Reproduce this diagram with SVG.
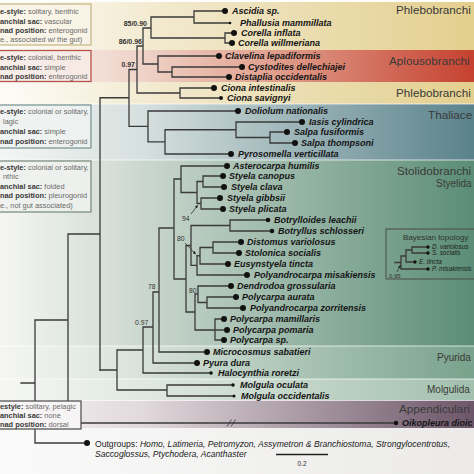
<svg xmlns="http://www.w3.org/2000/svg" width="474" height="474" viewBox="0 0 474 474">
<style>
.tip{font-family:"Liberation Sans",Arial,sans-serif;font-size:9px;font-style:italic;font-weight:bold;fill:#151515}
.clade{font-family:"Liberation Sans",Arial,sans-serif;font-size:11.7px;fill:#3a3a3a}
.fam{font-family:"Liberation Sans",Arial,sans-serif;font-size:10px;fill:#3a3a3a}
.bx{font-family:"Liberation Sans",Arial,sans-serif;font-size:7.4px;fill:#6a6a6a}
.b{font-weight:bold;fill:#3a3a3a}
.sup{font-family:"Liberation Sans",Arial,sans-serif;font-size:6.8px;fill:#333}
.supb{font-family:"Liberation Sans",Arial,sans-serif;font-size:7px;font-weight:bold;fill:#333}
.br{stroke:#3a3a3a;stroke-width:1.3;fill:none;stroke-linecap:square}
.thin{stroke:#333;stroke-width:0.8;fill:none}
.dot{fill:#111}
.sep{stroke:#ffffff;stroke-opacity:0.7;stroke-width:1}
.ins{font-family:"Liberation Sans",Arial,sans-serif;font-size:6.3px;font-style:italic;fill:#1a1a1a}
</style>
<defs>
<linearGradient id="gPh" x1="0" x2="1" y1="0" y2="0"><stop offset="0" stop-color="#fdfcf8"/><stop offset="0.35" stop-color="#f2e9cd"/><stop offset="1" stop-color="#e3cf8e"/></linearGradient>
<linearGradient id="gAp" x1="0" x2="1" y1="0" y2="0"><stop offset="0" stop-color="#fbf5f2"/><stop offset="0.3" stop-color="#efd3c8"/><stop offset="0.6" stop-color="#df9a88"/><stop offset="1" stop-color="#c6412f"/></linearGradient>
<linearGradient id="gTh" x1="0" x2="1" y1="0" y2="0"><stop offset="0" stop-color="#f4f6f5"/><stop offset="0.3" stop-color="#d6e0de"/><stop offset="1" stop-color="#5a828c"/></linearGradient>
<linearGradient id="gSt" x1="0" x2="1" y1="0" y2="0"><stop offset="0" stop-color="#f5f6f3"/><stop offset="0.25" stop-color="#d3ddd5"/><stop offset="1" stop-color="#5b8d76"/></linearGradient>
<linearGradient id="gPy" x1="0" x2="1" y1="0" y2="0"><stop offset="0" stop-color="#f5f6f3"/><stop offset="0.3" stop-color="#d8e2da"/><stop offset="1" stop-color="#78a28b"/></linearGradient>
<linearGradient id="gMo" x1="0" x2="1" y1="0" y2="0"><stop offset="0" stop-color="#f6f7f4"/><stop offset="0.3" stop-color="#e0e8e2"/><stop offset="1" stop-color="#a2c0ad"/></linearGradient>
<linearGradient id="gAd" x1="0" x2="1" y1="0" y2="0"><stop offset="0" stop-color="#f6f4f5"/><stop offset="0.3" stop-color="#e2d9dc"/><stop offset="1" stop-color="#6c5669"/></linearGradient>
<linearGradient id="gBo" x1="0" x2="1" y1="0" y2="0"><stop offset="0" stop-color="#fafafa"/><stop offset="1" stop-color="#ebeae8"/></linearGradient>
<marker id="ar" viewBox="0 0 6 6" refX="5" refY="3" markerWidth="4" markerHeight="4" orient="auto"><path d="M0,0L6,3L0,6z" fill="#222"/></marker>
</defs>
<rect width="474" height="474" fill="#fdfdfc"/>
<g id="bands">
<rect x="0" y="2" width="474" height="48" fill="url(#gPh)"/>
<rect x="0" y="50" width="474" height="32" fill="url(#gAp)"/>
<rect x="0" y="82" width="474" height="22" fill="url(#gPh)"/>
<rect x="0" y="104" width="474" height="56" fill="url(#gTh)"/>
<rect x="0" y="160" width="474" height="186" fill="url(#gSt)"/>
<rect x="0" y="346" width="474" height="33" fill="url(#gPy)"/>
<rect x="0" y="379" width="474" height="21" fill="url(#gMo)"/>
<rect x="0" y="400" width="474" height="28" fill="url(#gAd)"/>
<rect x="0" y="428" width="474" height="46" fill="url(#gBo)"/>
<line class="sep" x1="0" y1="104" x2="474" y2="104"/>
<line class="sep" x1="0" y1="160" x2="474" y2="160"/>
<line class="sep" x1="0" y1="346" x2="474" y2="346"/>
<line class="sep" x1="0" y1="379" x2="474" y2="379"/>
<line class="sep" x1="0" y1="400.5" x2="474" y2="400.5"/>
</g>
<g id="band-labels">
<text class="clade" x="396" y="14">Phlebobranchi</text>
<text class="clade" x="389" y="65">Aplousobranchi</text>
<text class="clade" x="396" y="97">Phlebobranchi</text>
<text class="clade" x="428" y="119">Thaliace</text>
<text class="clade" x="397" y="175">Stolidobranchi</text>
<text class="fam" x="436" y="187">Styelida</text>
<text class="fam" x="437" y="361">Pyurida</text>
<text class="fam" x="427" y="393">Molgulida</text>
<text class="clade" x="399" y="413">Appendiculari</text>
</g>
<g id="connectors">
<path class="br" d="M21,383H35M35,320V443M35,320H68M35,443H84M68,234V423M68,423H393.8M68,234H100M100,97.75V370M100,97.75H129M129,69.5V126.4M129,69.5H137M137,46V93M137,46H143M143,28V64M143,28H151M151,17V38M151,17H194M194,11V23M194,11H222M194,23H228.7M151,38H225M225,33V43M225,33H231M225,43H229M143,64H158M158,56V72M158,56H216M158,72H172M172,67V77M172,67H239M172,77H226M137,93H180M180,88V98M180,88H211M180,98H219M129,126.4H148M148,111V141.9M148,111H235M148,141.9H165M165,129.75V154M165,129.75H236M236,122V137.5M236,122H299M236,137.5H270M270,132V143M270,132H284M270,143H292M165,154H228"/>
<path class="br" d="M100,370H117M117,350V390M117,350H143M143,327V373M143,373H209.2M143,327H153M153,292V363M153,363H194M153,292H159M159,228V352M159,352H204M159,228H174M174,179V279M174,179H181M181,166V192.5M181,166H224M181,192.5H197M197,181.5V203.5M197,181.5H203M203,176V187M203,176H220M203,187H221M197,203.5H201M201,198V209M201,198H217M201,209H220M174,279H186M186,245.5V312M186,245.5H191M191,225.5V265.4M191,225.5H230M230,220V231M230,220H265.7M230,231H269.7M191,265.4H197M197,255.75V275M197,255.75H200M200,247.5V264M200,247.5H213M213,242V253M213,242H238M213,253H236M200,264H225M197,275H244M186,312H195M195,294V330M195,294H198M198,286V302.5M198,286H228M198,302.5H207M207,297V308M207,297H233M207,308H240M195,330H215M215,319V340M215,319H221M215,330H224M215,340H221M117,390H167M167,385V396M167,385H231.2M167,396H232.5"/>
<path class="thin" d="M227,426.5L231.5,419.5M231,426.5L235.5,419.5" stroke-width="1"/>
<line class="thin" x1="191" y1="214" x2="197.5" y2="205.5" marker-end="url(#ar)"/>
<line class="thin" x1="185" y1="243" x2="195.5" y2="254" marker-end="url(#ar)"/>
</g>
<g id="support">
<text class="supb" x="147" y="26" text-anchor="end">85/0.90</text>
<text class="supb" x="142" y="44" text-anchor="end">86/0.96</text>
<text class="supb" x="135" y="67" text-anchor="end">0.97</text>
<text class="sup" x="182" y="221">94</text>
<text class="sup" x="177" y="241">80</text>
<text class="sup" x="189" y="293">80</text>
<text class="sup" x="148" y="289">78</text>
<text class="sup" x="135" y="325">0.97</text>
</g>
<g id="box1"><rect x="-5" y="4" width="96" height="41" fill="#f8f3e6" fill-opacity="0.85" stroke="#c9b98a" stroke-width="1.3"/>
<text class="bx" x="0" y="14"><tspan class="b">e-style:</tspan> solitary, benthic</text>
<text class="bx" x="0" y="23.5"><tspan class="b">anchial sac:</tspan> vascular</text>
<text class="bx" x="0" y="33"><tspan class="b">nad position:</tspan> enterogonid</text>
<text class="bx" x="0" y="42">e., associated w/ the gut)</text></g>
<g id="box2"><rect x="-5" y="50.5" width="96" height="31" fill="#f7ebe6" fill-opacity="0.85" stroke="#b5554a" stroke-width="1.3"/>
<text class="bx" x="0" y="60"><tspan class="b">e-style:</tspan> colonial, benthic</text>
<text class="bx" x="0" y="69.5"><tspan class="b">anchial sac:</tspan> simple</text>
<text class="bx" x="0" y="79"><tspan class="b">nad position:</tspan> enterogonid</text></g>
<g id="box3"><rect x="-5" y="105" width="96" height="43" fill="#eff2f1" fill-opacity="0.85" stroke="#7d9896" stroke-width="1.3"/>
<text class="bx" x="0" y="114"><tspan class="b">e-style:</tspan> colonial or solitary,</text>
<text class="bx" x="3" y="124">lagic</text>
<text class="bx" x="0" y="133.5"><tspan class="b">anchial sac:</tspan> simple</text>
<text class="bx" x="0" y="143.5"><tspan class="b">nad position:</tspan> enterogonid</text></g>
<g id="box4"><rect x="-5" y="161" width="96" height="51" fill="#eff1ee" fill-opacity="0.85" stroke="#7e8f80" stroke-width="1.3"/>
<text class="bx" x="0" y="170"><tspan class="b">e-style:</tspan> colonial or solitary,</text>
<text class="bx" x="3" y="179">nthic</text>
<text class="bx" x="0" y="189"><tspan class="b">anchial sac:</tspan> folded</text>
<text class="bx" x="0" y="198"><tspan class="b">nad position:</tspan> pleurogonid</text>
<text class="bx" x="0" y="207.5">e., not gut associated)</text></g>
<g id="box5"><rect x="-5" y="401" width="86" height="28" fill="#f6f4f5" stroke="#555" stroke-width="1.3"/>
<text class="bx" x="0" y="409"><tspan class="b">estyle:</tspan> solitary, pelagic</text>
<text class="bx" x="0" y="418"><tspan class="b">anchial sac:</tspan> none</text>
<text class="bx" x="0" y="426.5"><tspan class="b">nad position:</tspan> dorsal</text></g>
<g id="tips">
<g id="n-ascidia"><circle class="dot" cx="225" cy="11" r="3"/><text class="tip" x="232" y="14.2">Ascidia sp.</text></g>
<g id="n-phallusia"><circle class="dot" cx="230" cy="23" r="1.3"/><text class="tip" x="240" y="26.2">Phallusia mammillata</text></g>
<g id="n-corella-i"><circle class="dot" cx="234" cy="33" r="3"/><text class="tip" x="241" y="36.2">Corella inflata</text></g>
<g id="n-corella-w"><circle class="dot" cx="232" cy="43" r="3"/><text class="tip" x="238" y="46.2">Corella willmeriana</text></g>
<g id="n-clavelina"><circle class="dot" cx="219" cy="56" r="3"/><text class="tip" x="225" y="59.2">Clavelina lepadiformis</text></g>
<g id="n-cystodites"><circle class="dot" cx="242" cy="67" r="3"/><text class="tip" x="248" y="70.2">Cystodites dellechiajei</text></g>
<g id="n-distaplia"><circle class="dot" cx="229" cy="77" r="3"/><text class="tip" x="235" y="80.2">Distaplia occidentalis</text></g>
<g id="n-ciona-i"><circle class="dot" cx="214" cy="88" r="3"/><text class="tip" x="221" y="91.2">Ciona intestinalis</text></g>
<g id="n-ciona-s"><circle class="dot" cx="221" cy="98" r="2"/><text class="tip" x="227" y="101.2">Ciona savignyi</text></g>
<g id="n-doliolum"><circle class="dot" cx="238" cy="111" r="3"/><text class="tip" x="245" y="114.2">Doliolum nationalis</text></g>
<g id="n-iasis"><circle class="dot" cx="302" cy="122" r="3"/><text class="tip" x="309" y="125.2">Iasis cylindrica</text></g>
<g id="n-salpa-f"><circle class="dot" cx="287" cy="132" r="3"/><text class="tip" x="294" y="135.2">Salpa fusiformis</text></g>
<g id="n-salpa-t"><circle class="dot" cx="295" cy="143" r="3"/><text class="tip" x="301" y="146.2">Salpa thompsoni</text></g>
<g id="n-pyrosomella"><circle class="dot" cx="231" cy="154" r="3"/><text class="tip" x="238" y="157.2">Pyrosomella verticillata</text></g>
<g id="n-asterocarpa"><circle class="dot" cx="227" cy="166" r="3"/><text class="tip" x="233" y="169.2">Asterocarpa humilis</text></g>
<g id="n-styela-ca"><circle class="dot" cx="223" cy="176" r="3"/><text class="tip" x="229" y="179.2">Styela canopus</text></g>
<g id="n-styela-cl"><circle class="dot" cx="224" cy="187" r="3"/><text class="tip" x="231" y="190.2">Styela clava</text></g>
<g id="n-styela-g"><circle class="dot" cx="220" cy="198" r="3"/><text class="tip" x="227" y="201.2">Styela gibbsii</text></g>
<g id="n-styela-p"><circle class="dot" cx="223" cy="209" r="3"/><text class="tip" x="229" y="212.2">Styela plicata</text></g>
<g id="n-botrylloides"><circle class="dot" cx="268" cy="220" r="2.3"/><text class="tip" x="274" y="223.2">Botrylloides leachii</text></g>
<g id="n-botryllus"><circle class="dot" cx="272" cy="231" r="2.3"/><text class="tip" x="278" y="234.2">Botryllus schlosseri</text></g>
<g id="n-distomus"><circle class="dot" cx="241" cy="242" r="3"/><text class="tip" x="247" y="245.2">Distomus variolosus</text></g>
<g id="n-stolonica"><circle class="dot" cx="239" cy="253" r="3"/><text class="tip" x="245" y="256.2">Stolonica socialis</text></g>
<g id="n-eusynstyela"><circle class="dot" cx="228" cy="264" r="3"/><text class="tip" x="234" y="267.2">Eusynstyela tincta</text></g>
<g id="n-polyandro-m"><circle class="dot" cx="247" cy="275" r="3"/><text class="tip" x="254" y="278.2">Polyandrocarpa misakiensis</text></g>
<g id="n-dendrodoa"><circle class="dot" cx="231" cy="286" r="3"/><text class="tip" x="237" y="289.2">Dendrodoa grossularia</text></g>
<g id="n-polycarpa-a"><circle class="dot" cx="236" cy="297" r="3"/><text class="tip" x="242" y="300.2">Polycarpa aurata</text></g>
<g id="n-polyandro-z"><circle class="dot" cx="243" cy="308" r="3"/><text class="tip" x="250" y="311.2">Polyandrocarpa zorritensis</text></g>
<g id="n-polycarpa-m"><circle class="dot" cx="224" cy="319" r="3"/><text class="tip" x="230" y="322.2">Polycarpa mamillaris</text></g>
<g id="n-polycarpa-p"><circle class="dot" cx="227" cy="330" r="3"/><text class="tip" x="233" y="333.2">Polycarpa pomaria</text></g>
<g id="n-polycarpa-sp"><circle class="dot" cx="224" cy="340" r="3"/><text class="tip" x="230" y="343.2">Polycarpa sp.</text></g>
<g id="n-microcosmus"><circle class="dot" cx="207" cy="352" r="3"/><text class="tip" x="213" y="355.2">Microcosmus sabatieri</text></g>
<g id="n-pyura"><circle class="dot" cx="197" cy="363" r="3"/><text class="tip" x="203" y="366.2">Pyura dura</text></g>
<g id="n-halocynthia"><circle class="dot" cx="211" cy="373" r="1.8"/><text class="tip" x="218" y="376.2">Halocynthia roretzi</text></g>
<g id="n-molgula-o"><circle class="dot" cx="233" cy="385" r="1.8"/><text class="tip" x="240" y="388.2">Molgula oculata</text></g>
<g id="n-molgula-oc"><circle class="dot" cx="234" cy="396" r="1.5"/><text class="tip" x="241" y="399.2">Molgula occidentalis</text></g>
<g id="n-oikopleura"><circle class="dot" cx="396" cy="423" r="2.2"/><text class="tip" x="402" y="426.2">Oikopleura dioic</text></g>
<g id="n-outgroups"><circle class="dot" cx="87" cy="443" r="3"/>
<text font-family="Liberation Sans, Arial, sans-serif" font-size="8.6" fill="#222" x="95" y="446.5">Outgroups: <tspan font-style="italic">Homo, Latimeria, Petromyzon, Assymetron &amp; Branchiostoma, Strongylocentrotus,</tspan></text>
<text font-family="Liberation Sans, Arial, sans-serif" font-size="8.6" fill="#222" font-style="italic" x="95" y="456.5">Saccoglossus, Ptychodera, Acanthaster</text></g>
</g>
<g id="scale"><line x1="276" y1="454.5" x2="328" y2="454.5" stroke="#222" stroke-width="1.5"/><text font-family="Liberation Sans, Arial, sans-serif" font-size="6.5" fill="#333" x="302" y="466" text-anchor="middle">0.2</text></g>
<g id="bayesian-inset">
<rect x="386" y="229" width="100" height="50" fill="none" stroke="#4a4a4a" stroke-width="1"/>
<text font-family="Liberation Sans, Arial, sans-serif" font-size="8" fill="#333" x="403" y="239.5">Bayesian topology</text>
<path class="br" stroke-width="1" d="M412,247V253M412,247H426.5M412,253H426.5M406,250V262M406,250H412M406,262H413.5M401,256V269M401,256H406M401,269H426.5M395,262.5H401"/>
<circle class="dot" cx="428" cy="247" r="1.7"/><text class="ins" x="432" y="249.3">D. variolosus</text>
<circle class="dot" cx="428" cy="253" r="1.7"/><text class="ins" x="432" y="255.3">S. socialis</text>
<circle class="dot" cx="415" cy="262" r="1.7"/><text class="ins" x="419" y="264.3">E. tincta</text>
<circle class="dot" cx="428" cy="269" r="1.7"/><text class="ins" x="432" y="271.3">P. misakiensis</text>
<line class="thin" x1="397" y1="272" x2="400.3" y2="265.5" marker-end="url(#ar)"/>
<text font-family="Liberation Sans, Arial, sans-serif" font-size="6" fill="#333" x="389" y="278">0.95</text>
</g>
</svg>
